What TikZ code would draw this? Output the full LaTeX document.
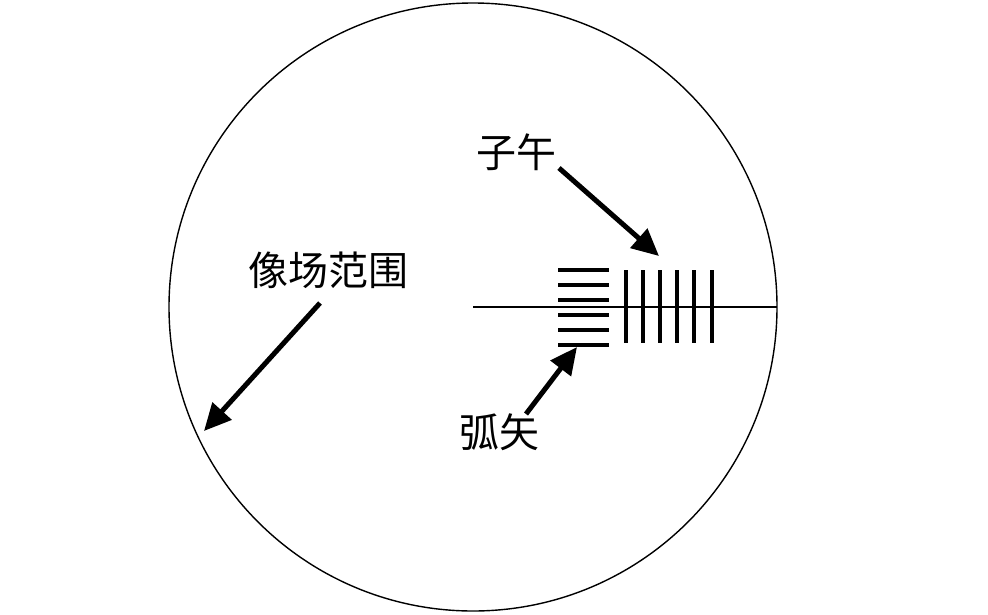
\documentclass[tikz,border=0pt]{standalone}
\usepackage{fontspec}
\newfontfamily\cjk{Noto Sans CJK SC}
\usetikzlibrary{arrows.meta}
\begin{document}
\begin{tikzpicture}[x=1pt,y=-1pt,
  lbl/.style={inner sep=0pt,font=\cjk\fontsize{40}{44}\selectfont},
  pointer/.style={line width=5pt,-{Triangle[length=27pt,width=25pt]}},
  hbar/.style={line width=3.4pt},
  vbar/.style={line width=3.4pt}]
\useasboundingbox (0,0) rectangle (988,614);
\draw[line width=1.4pt] (473,307) circle (304);
\coordinate (axL) at (473,307);
\coordinate (axR) at (777,307);
\draw[line width=1.8pt] (axL) -- (axR);
\foreach \y in {270,285,300,315,330,345} \draw[hbar] (558,\y) -- (609,\y);
\foreach \x in {626,643,660,677,694,712} \draw[vbar] (\x,270) -- (\x,343);
\node[lbl] (xc) at (328,270) {像场范围};
\node[lbl] (zw) at (516,152) {子午};
\node[lbl] (hs) at (499,432) {弧矢};
\coordinate (xcS) at (320,303);
\coordinate (xcT) at (204,431);
\coordinate (zwS) at (559,168);
\coordinate (zwT) at (659,256);
\coordinate (hsS) at (526,414);
\coordinate (hsT) at (577,347);
\draw[pointer] (xcS) -- (xcT);
\draw[pointer] (zwS) -- (zwT);
\draw[pointer] (hsS) -- (hsT);
\end{tikzpicture}
\end{document}
